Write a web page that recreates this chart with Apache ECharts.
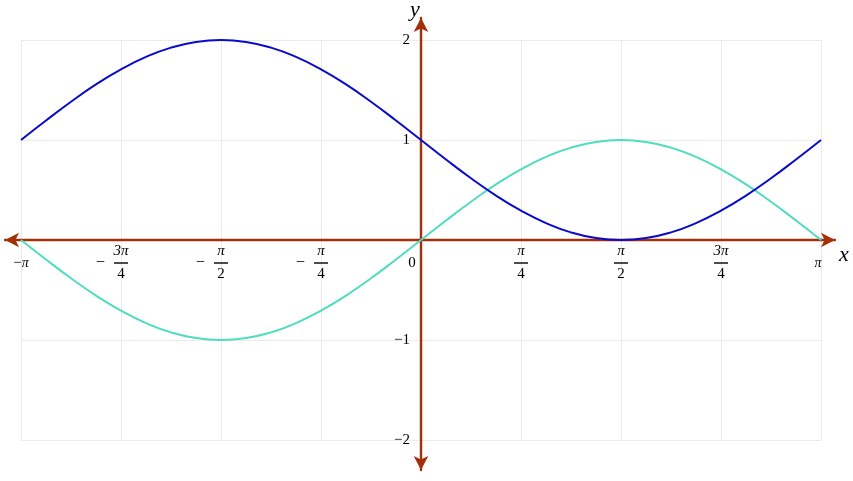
<!DOCTYPE html>
<html><head><meta charset="utf-8">
<script src="https://cdn.jsdelivr.net/npm/echarts@6/dist/echarts.min.js"></script>
<style>html,body{margin:0;padding:0;background:#fff}#c{width:853px;height:481px}</style>
</head><body><div id="c"></div>
<script>
// x in units of pi
const xValues = [-1, -0.9375, -0.875, -0.8125, -0.75, -0.6875, -0.625, -0.5625, -0.5, -0.4375, -0.375, -0.3125, -0.25, -0.1875, -0.125, -0.0625, 0,
  0.0625, 0.125, 0.1875, 0.25, 0.3125, 0.375, 0.4375, 0.5, 0.5625, 0.625, 0.6875, 0.75, 0.8125, 0.875, 0.9375, 1];
const tealValues = [0, -0.195, -0.383, -0.556, -0.707, -0.831, -0.924, -0.981, -1, -0.981, -0.924, -0.831, -0.707, -0.556, -0.383, -0.195, 0,
  0.195, 0.383, 0.556, 0.707, 0.831, 0.924, 0.981, 1, 0.981, 0.924, 0.831, 0.707, 0.556, 0.383, 0.195, 0];
const blueValues = [1, 1.195, 1.383, 1.556, 1.707, 1.831, 1.924, 1.981, 2, 1.981, 1.924, 1.831, 1.707, 1.556, 1.383, 1.195, 1,
  0.805, 0.617, 0.444, 0.293, 0.169, 0.076, 0.019, 0, 0.019, 0.076, 0.169, 0.293, 0.444, 0.617, 0.805, 1];
// x tick labels: [sign, numerator, denominator] (empty denominator = single-line label)
const xTickLabels = [['−', 'π', ''], ['−', '3π', '4'], ['−', 'π', '2'], ['−', 'π', '4'], ['', '0', ''], ['', 'π', '4'], ['', 'π', '2'], ['', '3π', '4'], ['', 'π', '']];
const yTickLabels = {'-2': '−2', '-1': '−1', '0': '', '1': '1', '2': '2'};

const axisColor = '#a3300a';
const gridColor = '#ebebeb';
const serif = 'Liberation Serif';
const txt = '#000';

const chart = echarts.init(document.getElementById('c'));
const toPair = (vals) => xValues.map((x, i) => [x, vals[i]]);

function xLabel(v) {
  const idx = Math.round((v + 1) / 0.25);
  const t = xTickLabels[idx];
  if (!t) return '';
  if (t[2] === '') {
    if (t[1] === '0') return '{e| }\n{zero|0}\n{e| }';
    if (t[0]) return '{e| }\n{single|−}{singlei|π}\n{e| }';
    return '{e| }\n{singlepi|π}\n{e| }';
  }
  const sign = t[0] ? '{sg|−}' : '{sp| }';
  return '{num|' + t[1] + '}\n' + sign + '{bar| }{sp| }\n{den|' + t[2] + '}';
}

chart.setOption({
  animation: false,
  backgroundColor: '#fff',
  grid: [
    {left: 21, right: 32, top: 40, bottom: 41, outerBoundsMode: 'none', containLabel: false},
    {left: 5, right: 18, top: 18, bottom: 11, outerBoundsMode: 'none', containLabel: false}
  ],
  xAxis: [
    {
      type: 'value', gridIndex: 0, min: -1, max: 1, interval: 0.25, position: 'bottom', offset: -200,
      axisLine: {show: false, onZero: false}, axisTick: {show: false},
      splitLine: {show: true, lineStyle: {color: gridColor, width: 1}},
      axisLabel: {
        show: true, margin: 4, formatter: xLabel, color: txt, fontFamily: serif,
        showMinLabel: true, showMaxLabel: true, hideOverlap: false,
        rich: {
          num: {fontFamily: serif, fontStyle: 'italic', fontSize: 15, lineHeight: 15, color: txt, align: 'center'},
          den: {fontFamily: serif, fontSize: 15, lineHeight: 15, color: txt, align: 'center'},
          bar: {width: 14, height: 1.4, lineHeight: 8, backgroundColor: txt, fontSize: 1},
          sg: {width: 18, fontSize: 16, lineHeight: 8, fontFamily: serif, color: txt, align: 'left'},
          sp: {width: 18, fontSize: 1, lineHeight: 8},
          e: {fontSize: 1, lineHeight: 15},
          zero: {fontFamily: serif, fontSize: 15, lineHeight: 8, color: txt, padding: [0, 18, 0, 0]},
          single: {fontFamily: serif, fontSize: 15, lineHeight: 8, color: txt},
          singlei: {fontFamily: serif, fontStyle: 'italic', fontSize: 14, lineHeight: 8, color: txt},
          singlepi: {fontFamily: serif, fontStyle: 'italic', fontSize: 14, lineHeight: 8, color: txt, padding: [0, 6, 0, 0]}
        }
      }
    },
    {
      type: 'value', gridIndex: 1, min: -1.04, max: 1.035,
      axisLine: {show: true, onZero: true, symbol: ['arrow', 'arrow'], symbolSize: [11, 14], lineStyle: {color: axisColor, width: 2.4}},
      axisTick: {show: false}, axisLabel: {show: false}, splitLine: {show: false},
      name: 'x', nameLocation: 'end', nameGap: 4,
      nameTextStyle: {fontFamily: serif, fontStyle: 'italic', fontSize: 22, color: txt, verticalAlign: 'top', padding: [4, 0, 0, 0]}
    }
  ],
  yAxis: [
    {
      type: 'value', gridIndex: 0, min: -2, max: 2, interval: 1, position: 'left', offset: -400,
      axisLine: {show: false, onZero: false}, axisTick: {show: false},
      splitLine: {show: true, lineStyle: {color: gridColor, width: 1}},
      axisLabel: {
        show: true, margin: 11, color: txt, fontFamily: serif, fontSize: 15,
        showMinLabel: true, showMaxLabel: true, hideOverlap: false,
        formatter: (v) => yTickLabels[String(Math.round(v))] || ''
      }
    },
    {
      type: 'value', gridIndex: 1, min: -2.30, max: 2.22,
      axisLine: {show: true, onZero: true, symbol: ['arrow', 'arrow'], symbolSize: [11, 14], lineStyle: {color: axisColor, width: 2.4}},
      axisTick: {show: false}, axisLabel: {show: false}, splitLine: {show: false},
      name: 'y', nameLocation: 'end', nameGap: -3,
      nameTextStyle: {fontFamily: serif, fontStyle: 'italic', fontSize: 22, color: txt, padding: [0, 12, 0, 0]}
    }
  ],
  series: [
    {
      name: 'sin x', type: 'line', xAxisIndex: 0, yAxisIndex: 0, data: toPair(tealValues),
      smooth: true, showSymbol: false, symbol: 'none', lineStyle: {color: '#4fdcc0', width: 2}, z: 3
    },
    {
      name: '1 - sin x', type: 'line', xAxisIndex: 0, yAxisIndex: 0, data: toPair(blueValues),
      smooth: true, showSymbol: false, symbol: 'none', lineStyle: {color: '#0a0acc', width: 2}, z: 4
    }
  ]
});
</script>
</body></html>
